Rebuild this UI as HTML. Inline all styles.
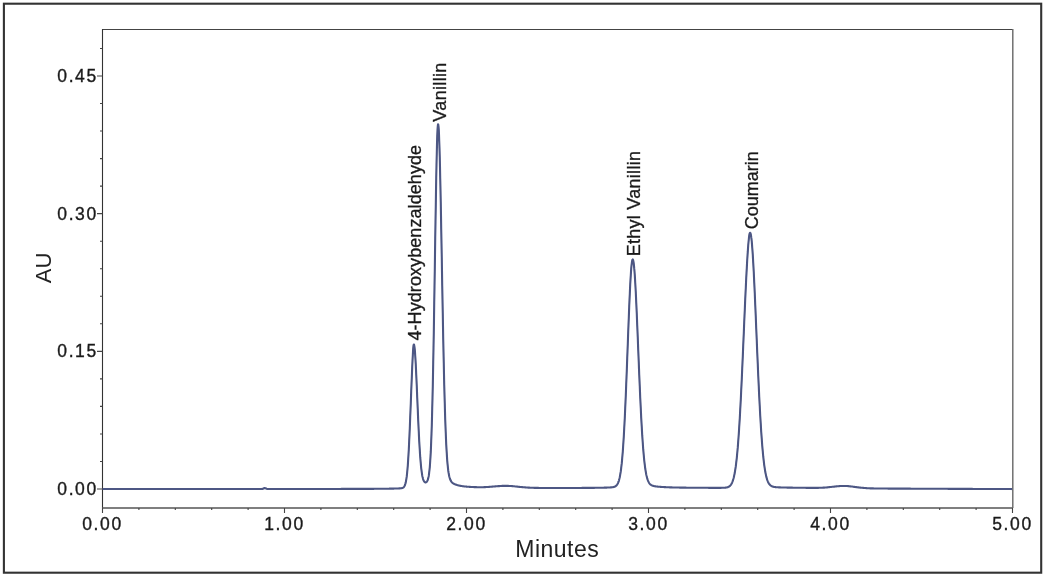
<!DOCTYPE html>
<html><head><meta charset="utf-8"><style>
html,body{margin:0;padding:0;background:#fff;width:1047px;height:578px;overflow:hidden}
svg{display:block;will-change:transform}
.tl{font-family:"Liberation Sans", sans-serif;font-size:17.5px;fill:#1a1a1a;stroke:#1a1a1a;stroke-width:0.35px;letter-spacing:1.6px}
.ax{font-family:"Liberation Sans", sans-serif;font-size:23px;fill:#222;letter-spacing:0.5px}
.pl{font-family:"Liberation Sans", sans-serif;font-size:18px;fill:#1a1a1a;stroke:#1a1a1a;stroke-width:0.3px}
</style></head><body>
<svg width="1047" height="578" viewBox="0 0 1047 578">
<rect x="3.9" y="3.7" width="1037.3" height="569" fill="none" stroke="#333" stroke-width="2.1"/>
<path d="M102.5,29.5 H1012.5" stroke="#444" stroke-width="1"/>
<path d="M102.5,29 V508" stroke="#333" stroke-width="1.1"/>
<path d="M102,508 H1013" stroke="#555" stroke-width="1.6"/>
<path d="M1012.8,29 V508" stroke="#666" stroke-width="1.4"/>
<path d="M97,489.00 H102.5 M100,461.47 H102.5 M100,433.93 H102.5 M100,406.40 H102.5 M100,378.87 H102.5 M97,351.33 H102.5 M100,323.80 H102.5 M100,296.27 H102.5 M100,268.73 H102.5 M100,241.20 H102.5 M97,213.67 H102.5 M100,186.13 H102.5 M100,158.60 H102.5 M100,131.07 H102.5 M100,103.53 H102.5 M97,76.00 H102.5 M100,48.47 H102.5 M102.50,508 V513 M138.90,508 V510 M175.30,508 V510 M211.70,508 V510 M248.10,508 V510 M284.50,508 V513 M320.90,508 V510 M357.30,508 V510 M393.70,508 V510 M430.10,508 V510 M466.50,508 V513 M502.90,508 V510 M539.30,508 V510 M575.70,508 V510 M612.10,508 V510 M648.50,508 V513 M684.90,508 V510 M721.30,508 V510 M757.70,508 V510 M794.10,508 V510 M830.50,508 V513 M866.90,508 V510 M903.30,508 V510 M939.70,508 V510 M976.10,508 V510 M1012.50,508 V513" stroke="#444" stroke-width="1.1" fill="none"/>
<text x="97.8" y="494.90" text-anchor="end" class="tl">0.00</text>
<text x="97.8" y="357.23" text-anchor="end" class="tl">0.15</text>
<text x="97.8" y="219.57" text-anchor="end" class="tl">0.30</text>
<text x="97.8" y="81.90" text-anchor="end" class="tl">0.45</text>
<text x="102.50" y="530.3" text-anchor="middle" class="tl">0.00</text>
<text x="284.50" y="530.3" text-anchor="middle" class="tl">1.00</text>
<text x="466.50" y="530.3" text-anchor="middle" class="tl">2.00</text>
<text x="648.50" y="530.3" text-anchor="middle" class="tl">3.00</text>
<text x="830.50" y="530.3" text-anchor="middle" class="tl">4.00</text>
<text x="1012.50" y="530.3" text-anchor="middle" class="tl">5.00</text>
<text x="557.3" y="557" text-anchor="middle" class="ax">Minutes</text>
<text transform="translate(51.2,267.9) rotate(-90)" text-anchor="middle" class="ax" style="font-size:22px;letter-spacing:0">AU</text>
<path d="M102.5,488.99 L103.5,488.99 L104.5,488.99 L105.5,488.99 L106.5,488.99 L107.5,488.99 L108.5,488.99 L109.5,488.99 L110.5,488.99 L111.5,488.99 L112.5,488.99 L113.5,488.99 L114.5,488.99 L115.5,488.99 L116.5,488.99 L117.5,488.99 L118.5,488.99 L119.5,488.99 L120.5,488.99 L121.5,488.99 L122.5,488.99 L123.5,488.99 L124.5,488.99 L125.5,488.99 L126.5,488.99 L127.5,488.99 L128.5,488.99 L129.5,488.99 L130.5,488.99 L131.5,488.99 L132.5,488.99 L133.5,488.99 L134.5,488.99 L135.5,488.99 L136.5,488.99 L137.5,488.99 L138.5,488.99 L139.5,488.99 L140.5,488.99 L141.5,488.99 L142.5,488.99 L143.5,488.99 L144.5,488.99 L145.5,488.99 L146.5,488.99 L147.5,488.99 L148.5,488.99 L149.5,488.99 L150.5,488.99 L151.5,488.99 L152.5,488.99 L153.5,488.99 L154.5,488.99 L155.5,488.99 L156.5,488.99 L157.5,488.99 L158.5,488.99 L159.5,488.99 L160.5,488.99 L161.5,488.99 L162.5,488.99 L163.5,488.99 L164.5,488.99 L165.5,488.99 L166.5,488.99 L167.5,488.99 L168.5,488.99 L169.5,488.99 L170.5,488.99 L171.5,488.99 L172.5,488.99 L173.5,488.99 L174.5,488.99 L175.5,488.99 L176.5,488.99 L177.5,488.99 L178.5,488.99 L179.5,488.99 L180.5,488.99 L181.5,488.99 L182.5,488.99 L183.5,488.99 L184.5,488.99 L185.5,488.99 L186.5,488.99 L187.5,488.99 L188.5,488.99 L189.5,488.99 L190.5,488.99 L191.5,488.99 L192.5,488.99 L193.5,488.99 L194.5,488.99 L195.5,488.99 L196.5,488.99 L197.5,488.99 L198.5,488.99 L199.5,488.99 L200.5,488.99 L201.5,488.99 L202.5,488.99 L203.5,488.99 L204.5,488.99 L205.5,488.99 L206.5,488.99 L207.5,488.99 L208.5,488.99 L209.5,488.99 L210.5,488.99 L211.5,488.99 L212.5,488.99 L213.5,488.99 L214.5,488.98 L215.5,488.98 L216.5,488.98 L217.5,488.98 L218.5,488.98 L219.5,488.98 L220.5,488.98 L221.5,488.98 L222.5,488.98 L223.5,488.98 L224.5,488.98 L225.5,488.98 L226.5,488.98 L227.5,488.98 L228.5,488.98 L229.5,488.98 L230.5,488.98 L231.5,488.98 L232.5,488.98 L233.5,488.98 L234.5,488.98 L235.5,488.98 L236.5,488.98 L237.5,488.98 L238.5,488.98 L239.5,488.98 L240.5,488.98 L241.5,488.98 L242.5,488.98 L243.5,488.98 L244.5,488.98 L245.5,488.98 L246.5,488.98 L247.5,488.98 L248.5,488.98 L249.5,488.98 L250.5,488.98 L251.5,488.98 L252.5,488.98 L253.5,488.98 L254.5,488.98 L255.5,488.98 L256.5,488.98 L257.5,488.98 L258.5,488.98 L259.5,488.98 L260.5,488.98 L261.5,488.97 L262.5,488.91 L263.5,488.55 L264.5,488.02 L265.5,488.19 L266.5,488.74 L267.5,488.95 L268.5,488.97 L269.5,488.97 L270.5,488.97 L271.5,488.97 L272.5,488.97 L273.5,488.97 L274.5,488.97 L275.5,488.97 L276.5,488.97 L277.5,488.97 L278.5,488.97 L279.5,488.97 L280.5,488.97 L281.5,488.97 L282.5,488.97 L283.5,488.97 L284.5,488.97 L285.5,488.97 L286.5,488.97 L287.5,488.97 L288.5,488.97 L289.5,488.97 L290.5,488.97 L291.5,488.97 L292.5,488.97 L293.5,488.97 L294.5,488.96 L295.5,488.96 L296.5,488.96 L297.5,488.96 L298.5,488.96 L299.5,488.96 L300.5,488.96 L301.5,488.96 L302.5,488.96 L303.5,488.96 L304.5,488.96 L305.5,488.96 L306.5,488.96 L307.5,488.96 L308.5,488.96 L309.5,488.96 L310.5,488.96 L311.5,488.96 L312.5,488.95 L313.5,488.95 L314.5,488.95 L315.5,488.95 L316.5,488.95 L317.5,488.95 L318.5,488.95 L319.5,488.95 L320.5,488.95 L321.5,488.95 L322.5,488.95 L323.5,488.95 L324.5,488.94 L325.5,488.94 L326.5,488.94 L327.5,488.94 L328.5,488.94 L329.5,488.94 L330.5,488.94 L331.5,488.94 L332.5,488.94 L333.5,488.93 L334.5,488.93 L335.5,488.93 L336.5,488.93 L337.5,488.93 L338.5,488.93 L339.5,488.93 L340.5,488.93 L341.5,488.92 L342.5,488.92 L343.5,488.92 L344.5,488.92 L345.5,488.92 L346.5,488.91 L347.5,488.91 L348.5,488.91 L349.5,488.91 L350.5,488.91 L351.5,488.90 L352.5,488.90 L353.5,488.90 L354.5,488.90 L355.5,488.90 L356.5,488.89 L357.5,488.89 L358.5,488.89 L359.5,488.88 L360.5,488.88 L361.5,488.88 L362.5,488.87 L363.5,488.87 L364.5,488.87 L365.5,488.86 L366.5,488.86 L367.5,488.86 L368.5,488.85 L369.5,488.85 L370.5,488.84 L371.5,488.84 L372.5,488.83 L373.5,488.83 L374.5,488.82 L375.5,488.81 L376.5,488.81 L377.5,488.80 L378.5,488.79 L379.5,488.78 L379.8,488.78 L380.0,488.78 L380.2,488.78 L380.5,488.78 L380.8,488.77 L381.0,488.77 L381.2,488.77 L381.5,488.77 L381.8,488.77 L382.0,488.76 L382.2,488.76 L382.5,488.76 L382.8,488.76 L383.0,488.75 L383.2,488.75 L383.5,488.75 L383.8,488.75 L384.0,488.74 L384.2,488.74 L384.5,488.74 L384.8,488.73 L385.0,488.73 L385.2,488.73 L385.5,488.73 L385.8,488.72 L386.0,488.72 L386.2,488.72 L386.5,488.71 L386.8,488.71 L387.0,488.71 L387.2,488.70 L387.5,488.70 L387.8,488.70 L388.0,488.69 L388.2,488.69 L388.5,488.69 L388.8,488.68 L389.0,488.68 L389.2,488.67 L389.5,488.67 L389.8,488.67 L390.0,488.66 L390.2,488.66 L390.5,488.65 L390.8,488.65 L391.0,488.64 L391.2,488.64 L391.5,488.63 L391.8,488.63 L392.0,488.62 L392.2,488.62 L392.5,488.61 L392.8,488.61 L393.0,488.60 L393.2,488.60 L393.5,488.59 L393.8,488.59 L394.0,488.58 L394.2,488.57 L394.5,488.57 L394.8,488.56 L395.0,488.55 L395.2,488.55 L395.5,488.54 L395.8,488.53 L396.0,488.53 L396.2,488.52 L396.5,488.51 L396.8,488.50 L397.0,488.49 L397.2,488.48 L397.5,488.47 L397.8,488.47 L398.0,488.46 L398.2,488.45 L398.5,488.43 L398.8,488.42 L399.0,488.41 L399.2,488.40 L399.5,488.38 L399.8,488.37 L400.0,488.35 L400.2,488.33 L400.5,488.31 L400.8,488.28 L401.0,488.25 L401.2,488.22 L401.5,488.18 L401.8,488.13 L402.0,488.07 L402.2,488.00 L402.5,487.92 L402.8,487.82 L403.0,487.69 L403.2,487.53 L403.5,487.34 L403.8,487.11 L404.0,486.83 L404.2,486.48 L404.5,486.06 L404.8,485.55 L405.0,484.94 L405.2,484.21 L405.5,483.35 L405.8,482.32 L406.0,481.12 L406.2,479.72 L406.5,478.09 L406.8,476.22 L407.0,474.08 L407.2,471.64 L407.5,468.90 L407.8,465.82 L408.0,462.41 L408.2,458.64 L408.5,454.51 L408.8,450.03 L409.0,445.19 L409.2,440.03 L409.5,434.55 L409.8,428.78 L410.0,422.78 L410.2,416.57 L410.5,410.22 L410.8,403.77 L411.0,397.28 L411.2,390.83 L411.5,384.46 L411.8,378.24 L412.0,372.22 L412.2,366.47 L412.5,361.06 L412.8,356.08 L413.0,351.68 L413.2,348.10 L413.5,345.60 L413.8,344.46 L414.0,344.60 L414.2,345.50 L414.5,347.10 L414.8,349.38 L415.0,352.31 L415.2,355.83 L415.5,359.89 L415.8,364.42 L416.0,369.36 L416.2,374.64 L416.5,380.19 L416.8,385.93 L417.0,391.81 L417.2,397.75 L417.5,403.70 L417.8,409.59 L418.0,415.38 L418.2,421.02 L418.5,426.47 L418.8,431.69 L419.0,436.66 L419.2,441.37 L419.5,445.78 L419.8,449.89 L420.0,453.70 L420.2,457.21 L420.5,460.42 L420.8,463.34 L421.0,465.97 L421.2,468.34 L421.5,470.45 L421.8,472.32 L422.0,473.97 L422.2,475.42 L422.5,476.67 L422.8,477.76 L423.0,478.70 L423.2,479.49 L423.5,480.16 L423.8,480.72 L424.0,481.19 L424.2,481.56 L424.5,481.86 L424.8,482.08 L425.0,482.24 L425.2,482.35 L425.5,482.39 L425.8,482.38 L426.0,482.32 L426.2,482.20 L426.5,482.01 L426.8,481.76 L427.0,481.44 L427.2,481.03 L427.5,480.51 L427.8,479.88 L428.0,479.11 L428.2,478.17 L428.5,477.05 L428.8,475.71 L429.0,474.10 L429.2,472.21 L429.5,469.97 L429.8,467.34 L430.0,464.28 L430.2,460.73 L430.5,456.64 L430.8,451.94 L431.0,446.58 L431.2,440.52 L431.5,433.69 L431.8,426.06 L432.0,417.58 L432.2,408.23 L432.5,397.98 L432.8,386.84 L433.0,374.81 L433.2,361.93 L433.5,348.23 L433.8,333.79 L434.0,318.69 L434.2,303.05 L434.5,286.99 L434.8,270.67 L435.0,254.26 L435.2,237.93 L435.5,221.90 L435.8,206.37 L436.0,191.57 L436.2,177.72 L436.5,165.04 L436.8,153.75 L437.0,144.05 L437.2,136.12 L437.5,130.11 L437.8,126.14 L438.0,124.30 L438.2,124.50 L438.5,126.30 L438.8,129.64 L439.0,134.48 L439.2,140.75 L439.5,148.36 L439.8,157.22 L440.0,167.21 L440.2,178.21 L440.5,190.08 L440.8,202.68 L441.0,215.88 L441.2,229.52 L441.5,243.47 L441.8,257.60 L442.0,271.77 L442.2,285.86 L442.5,299.76 L442.8,313.37 L443.0,326.59 L443.2,339.36 L443.5,351.61 L443.8,363.28 L444.0,374.33 L444.2,384.74 L444.5,394.48 L444.8,403.55 L445.0,411.94 L445.2,419.68 L445.5,426.76 L445.8,433.22 L446.0,439.08 L446.2,444.37 L446.5,449.13 L446.8,453.38 L447.0,457.18 L447.2,460.55 L447.5,463.52 L447.8,466.15 L448.0,468.45 L448.2,470.47 L448.5,472.23 L448.8,473.77 L449.0,475.11 L449.2,476.27 L449.5,477.27 L449.8,478.15 L450.0,478.90 L450.2,479.56 L450.5,480.14 L450.8,480.64 L451.0,481.08 L451.2,481.46 L451.5,481.80 L451.8,482.10 L452.0,482.37 L452.2,482.61 L452.5,482.83 L452.8,483.03 L453.0,483.21 L453.2,483.38 L453.5,483.54 L453.8,483.68 L454.0,483.82 L454.2,483.95 L454.5,484.07 L454.8,484.18 L455.0,484.29 L455.2,484.39 L455.5,484.49 L455.8,484.58 L456.0,484.67 L456.2,484.76 L456.5,484.84 L456.8,484.93 L457.0,485.00 L457.2,485.08 L457.5,485.15 L457.8,485.22 L458.0,485.28 L458.2,485.35 L458.5,485.41 L458.8,485.47 L459.0,485.53 L459.2,485.58 L459.5,485.64 L459.8,485.69 L460.0,485.74 L460.2,485.79 L460.5,485.84 L460.8,485.88 L461.0,485.93 L461.2,485.97 L461.5,486.01 L461.8,486.05 L462.0,486.09 L462.2,486.13 L462.5,486.17 L462.8,486.21 L463.0,486.24 L463.2,486.27 L463.5,486.31 L463.8,486.34 L464.0,486.37 L464.2,486.40 L464.5,486.43 L464.8,486.46 L465.0,486.48 L465.2,486.51 L465.5,486.53 L465.8,486.56 L466.0,486.58 L466.2,486.61 L466.5,486.63 L466.8,486.65 L467.0,486.67 L467.2,486.69 L467.5,486.71 L467.8,486.73 L468.0,486.75 L468.2,486.77 L468.5,486.79 L468.8,486.81 L469.0,486.82 L469.2,486.84 L469.5,486.86 L469.8,486.87 L470.0,486.89 L470.2,486.90 L470.5,486.92 L470.8,486.93 L471.0,486.95 L471.2,486.97 L471.5,486.98 L471.8,486.99 L472.0,487.01 L472.2,487.02 L472.5,487.03 L472.8,487.05 L473.0,487.06 L473.2,487.07 L474.2,487.11 L475.2,487.15 L476.2,487.17 L477.2,487.20 L478.2,487.21 L479.2,487.22 L480.2,487.22 L481.2,487.21 L482.2,487.20 L483.2,487.18 L484.2,487.15 L485.2,487.11 L486.2,487.07 L487.2,487.02 L488.2,486.96 L489.2,486.89 L490.2,486.82 L491.2,486.74 L492.2,486.66 L493.2,486.57 L494.2,486.49 L495.2,486.40 L496.2,486.31 L497.2,486.23 L498.2,486.15 L499.2,486.08 L500.2,486.01 L501.2,485.96 L502.2,485.91 L503.2,485.88 L504.2,485.86 L505.2,485.85 L506.2,485.85 L507.2,485.87 L508.2,485.90 L509.2,485.94 L510.2,486.00 L511.2,486.07 L512.2,486.14 L513.2,486.23 L514.2,486.32 L515.2,486.42 L516.2,486.52 L517.2,486.63 L518.2,486.73 L519.2,486.84 L520.2,486.94 L521.2,487.04 L522.2,487.13 L523.2,487.23 L524.2,487.31 L525.2,487.39 L526.2,487.46 L527.2,487.53 L528.2,487.59 L529.2,487.65 L530.2,487.70 L531.2,487.74 L532.2,487.78 L533.2,487.81 L534.2,487.84 L535.2,487.86 L536.2,487.88 L537.2,487.90 L538.2,487.92 L539.2,487.93 L540.2,487.94 L541.2,487.95 L542.2,487.95 L543.2,487.96 L544.2,487.96 L545.2,487.97 L546.2,487.97 L547.2,487.97 L548.2,487.97 L549.2,487.98 L550.2,487.98 L551.2,487.98 L552.2,487.98 L553.2,487.98 L554.2,487.98 L555.2,487.98 L556.2,487.98 L557.2,487.98 L558.2,487.98 L559.2,487.98 L560.2,487.98 L561.2,487.97 L562.2,487.97 L563.2,487.97 L564.2,487.97 L565.2,487.97 L566.2,487.97 L567.2,487.97 L568.2,487.96 L569.2,487.96 L570.2,487.96 L571.2,487.96 L572.2,487.96 L573.2,487.95 L574.2,487.95 L575.2,487.95 L576.2,487.95 L577.2,487.94 L578.2,487.94 L579.2,487.93 L580.2,487.93 L581.2,487.93 L582.2,487.92 L583.2,487.92 L584.2,487.91 L585.2,487.91 L586.2,487.90 L587.2,487.89 L588.2,487.89 L589.2,487.88 L590.2,487.87 L591.2,487.86 L592.2,487.86 L593.2,487.85 L594.2,487.84 L595.2,487.82 L596.2,487.81 L597.2,487.80 L598.2,487.78 L598.5,487.78 L598.8,487.78 L599.0,487.77 L599.2,487.77 L599.5,487.76 L599.8,487.76 L600.0,487.76 L600.2,487.75 L600.5,487.75 L600.8,487.74 L601.0,487.74 L601.2,487.73 L601.5,487.73 L601.8,487.72 L602.0,487.72 L602.2,487.71 L602.5,487.71 L602.8,487.70 L603.0,487.70 L603.2,487.69 L603.5,487.68 L603.8,487.68 L604.0,487.67 L604.2,487.67 L604.5,487.66 L604.8,487.65 L605.0,487.65 L605.2,487.64 L605.5,487.63 L605.8,487.62 L606.0,487.62 L606.2,487.61 L606.5,487.60 L606.8,487.59 L607.0,487.58 L607.2,487.57 L607.5,487.56 L607.8,487.55 L608.0,487.54 L608.2,487.53 L608.5,487.52 L608.8,487.51 L609.0,487.50 L609.2,487.49 L609.5,487.47 L609.8,487.46 L610.0,487.45 L610.2,487.43 L610.5,487.41 L610.8,487.40 L611.0,487.38 L611.2,487.36 L611.5,487.33 L611.8,487.31 L612.0,487.28 L612.2,487.25 L612.5,487.22 L612.8,487.18 L613.0,487.14 L613.2,487.09 L613.5,487.04 L613.8,486.97 L614.0,486.91 L614.2,486.83 L614.5,486.74 L614.8,486.64 L615.0,486.52 L615.2,486.39 L615.5,486.24 L615.8,486.07 L616.0,485.88 L616.2,485.66 L616.5,485.41 L616.8,485.12 L617.0,484.80 L617.2,484.44 L617.5,484.03 L617.8,483.56 L618.0,483.04 L618.2,482.45 L618.5,481.80 L618.8,481.06 L619.0,480.24 L619.2,479.33 L619.5,478.31 L619.8,477.19 L620.0,475.94 L620.2,474.57 L620.5,473.07 L620.8,471.41 L621.0,469.60 L621.2,467.62 L621.5,465.47 L621.8,463.14 L622.0,460.61 L622.2,457.88 L622.5,454.94 L622.8,451.78 L623.0,448.40 L623.2,444.79 L623.5,440.95 L623.8,436.88 L624.0,432.57 L624.2,428.02 L624.5,423.24 L624.8,418.23 L625.0,413.00 L625.2,407.55 L625.5,401.89 L625.8,396.04 L626.0,390.01 L626.2,383.82 L626.5,377.49 L626.8,371.04 L627.0,364.49 L627.2,357.86 L627.5,351.19 L627.8,344.51 L628.0,337.84 L628.2,331.23 L628.5,324.69 L628.8,318.27 L629.0,312.01 L629.2,305.94 L629.5,300.09 L629.8,294.51 L630.0,289.22 L630.2,284.27 L630.5,279.69 L630.8,275.50 L631.0,271.75 L631.2,268.45 L631.5,265.64 L631.8,263.33 L632.0,261.55 L632.2,260.30 L632.5,259.61 L632.8,259.46 L633.0,259.81 L633.2,260.62 L633.5,261.90 L633.8,263.63 L634.0,265.80 L634.2,268.41 L634.5,271.43 L634.8,274.84 L635.0,278.63 L635.2,282.77 L635.5,287.24 L635.8,292.01 L636.0,297.05 L636.2,302.35 L636.5,307.86 L636.8,313.56 L637.0,319.42 L637.2,325.41 L637.5,331.50 L637.8,337.67 L638.0,343.87 L638.2,350.10 L638.5,356.31 L638.8,362.49 L639.0,368.62 L639.2,374.66 L639.5,380.61 L639.8,386.44 L640.0,392.13 L640.2,397.68 L640.5,403.06 L640.8,408.27 L641.0,413.29 L641.2,418.12 L641.5,422.76 L641.8,427.19 L642.0,431.42 L642.2,435.44 L642.5,439.25 L642.8,442.86 L643.0,446.26 L643.2,449.47 L643.5,452.47 L643.8,455.29 L644.0,457.92 L644.2,460.37 L644.5,462.65 L644.8,464.76 L645.0,466.72 L645.2,468.52 L645.5,470.18 L645.8,471.71 L646.0,473.11 L646.2,474.40 L646.5,475.57 L646.8,476.64 L647.0,477.61 L647.2,478.49 L647.5,479.29 L647.8,480.02 L648.0,480.67 L648.2,481.27 L648.5,481.80 L648.8,482.28 L649.0,482.71 L649.2,483.10 L649.5,483.44 L649.8,483.76 L650.0,484.04 L650.2,484.29 L650.5,484.51 L650.8,484.71 L651.0,484.89 L651.2,485.06 L651.5,485.20 L651.8,485.33 L652.0,485.45 L652.2,485.56 L652.5,485.65 L652.8,485.74 L653.0,485.82 L653.2,485.90 L653.5,485.96 L653.8,486.02 L654.0,486.08 L654.2,486.13 L654.5,486.18 L654.8,486.23 L655.0,486.27 L655.2,486.31 L655.5,486.35 L655.8,486.39 L656.0,486.42 L656.2,486.45 L656.5,486.48 L656.8,486.51 L657.0,486.54 L657.2,486.57 L657.5,486.60 L657.8,486.62 L658.0,486.65 L658.2,486.67 L658.5,486.70 L658.8,486.72 L659.0,486.74 L659.2,486.76 L659.5,486.78 L659.8,486.80 L660.0,486.82 L660.2,486.84 L660.5,486.86 L660.8,486.88 L661.0,486.90 L661.2,486.92 L661.5,486.93 L661.8,486.95 L662.0,486.97 L662.2,486.98 L662.5,487.00 L662.8,487.01 L663.0,487.03 L663.2,487.04 L663.5,487.06 L663.8,487.07 L664.0,487.09 L664.2,487.10 L664.5,487.11 L664.8,487.13 L665.0,487.14 L665.2,487.15 L665.5,487.16 L665.8,487.17 L666.0,487.19 L666.2,487.20 L666.5,487.21 L666.8,487.22 L667.0,487.23 L667.2,487.24 L667.5,487.25 L667.8,487.26 L668.8,487.30 L669.8,487.34 L670.8,487.37 L671.8,487.40 L672.8,487.43 L673.8,487.46 L674.8,487.48 L675.8,487.50 L676.8,487.53 L677.8,487.55 L678.8,487.57 L679.8,487.58 L680.8,487.60 L681.8,487.62 L682.8,487.63 L683.8,487.65 L684.8,487.66 L685.8,487.67 L686.8,487.68 L687.8,487.69 L688.8,487.71 L689.8,487.72 L690.8,487.72 L691.8,487.73 L692.8,487.74 L693.8,487.75 L694.8,487.76 L695.8,487.76 L696.8,487.77 L697.8,487.78 L698.8,487.78 L699.8,487.79 L700.8,487.79 L701.8,487.80 L702.8,487.80 L703.8,487.81 L704.8,487.81 L705.8,487.82 L706.8,487.82 L707.8,487.82 L708.8,487.83 L709.8,487.83 L710.8,487.83 L711.8,487.83 L712.8,487.83 L713.8,487.84 L714.8,487.84 L715.8,487.84 L716.0,487.84 L716.2,487.84 L716.5,487.84 L716.8,487.84 L717.0,487.84 L717.2,487.84 L717.5,487.84 L717.8,487.84 L718.0,487.84 L718.2,487.84 L718.5,487.84 L718.8,487.84 L719.0,487.84 L719.2,487.84 L719.5,487.84 L719.8,487.83 L720.0,487.83 L720.2,487.83 L720.5,487.83 L720.8,487.83 L721.0,487.83 L721.2,487.83 L721.5,487.82 L721.8,487.82 L722.0,487.82 L722.2,487.81 L722.5,487.81 L722.8,487.80 L723.0,487.80 L723.2,487.79 L723.5,487.78 L723.8,487.77 L724.0,487.76 L724.2,487.75 L724.5,487.73 L724.8,487.71 L725.0,487.69 L725.2,487.67 L725.5,487.65 L725.8,487.62 L726.0,487.58 L726.2,487.55 L726.5,487.50 L726.8,487.45 L727.0,487.40 L727.2,487.33 L727.5,487.26 L727.8,487.18 L728.0,487.09 L728.2,486.98 L728.5,486.87 L728.8,486.73 L729.0,486.59 L729.2,486.42 L729.5,486.24 L729.8,486.03 L730.0,485.80 L730.2,485.55 L730.5,485.26 L730.8,484.95 L731.0,484.60 L731.2,484.22 L731.5,483.79 L731.8,483.32 L732.0,482.80 L732.2,482.24 L732.5,481.62 L732.8,480.94 L733.0,480.19 L733.2,479.38 L733.5,478.49 L733.8,477.53 L734.0,476.49 L734.2,475.36 L734.5,474.13 L734.8,472.81 L735.0,471.38 L735.2,469.85 L735.5,468.20 L735.8,466.43 L736.0,464.53 L736.2,462.51 L736.5,460.35 L736.8,458.06 L737.0,455.61 L737.2,453.02 L737.5,450.28 L737.8,447.38 L738.0,444.32 L738.2,441.10 L738.5,437.72 L738.8,434.17 L739.0,430.45 L739.2,426.57 L739.5,422.53 L739.8,418.32 L740.0,413.95 L740.2,409.42 L740.5,404.73 L740.8,399.90 L741.0,394.93 L741.2,389.82 L741.5,384.58 L741.8,379.22 L742.0,373.76 L742.2,368.20 L742.5,362.55 L742.8,356.83 L743.0,351.05 L743.2,345.23 L743.5,339.38 L743.8,333.51 L744.0,327.65 L744.2,321.81 L744.5,316.01 L744.8,310.26 L745.0,304.59 L745.2,299.01 L745.5,293.54 L745.8,288.20 L746.0,283.00 L746.2,277.96 L746.5,273.10 L746.8,268.43 L747.0,263.97 L747.2,259.72 L747.5,255.71 L747.8,251.94 L748.0,248.42 L748.2,245.19 L748.5,242.25 L748.8,239.63 L749.0,237.36 L749.2,235.50 L749.5,234.08 L749.8,233.16 L750.0,232.77 L750.2,232.87 L750.5,233.37 L750.8,234.27 L751.0,235.55 L751.2,237.21 L751.5,239.24 L751.8,241.64 L752.0,244.39 L752.2,247.47 L752.5,250.89 L752.8,254.61 L753.0,258.62 L753.2,262.91 L753.5,267.45 L753.8,272.23 L754.0,277.22 L754.2,282.41 L754.5,287.78 L754.8,293.30 L755.0,298.95 L755.2,304.72 L755.5,310.57 L755.8,316.50 L756.0,322.47 L756.2,328.47 L756.5,334.49 L756.8,340.50 L757.0,346.48 L757.2,352.42 L757.5,358.31 L757.8,364.12 L758.0,369.84 L758.2,375.47 L758.5,380.98 L758.8,386.38 L759.0,391.64 L759.2,396.76 L759.5,401.73 L759.8,406.55 L760.0,411.21 L760.2,415.71 L760.5,420.03 L760.8,424.19 L761.0,428.18 L761.2,432.00 L761.5,435.64 L761.8,439.11 L762.0,442.42 L762.2,445.55 L762.5,448.53 L762.8,451.34 L763.0,453.99 L763.2,456.49 L763.5,458.85 L763.8,461.05 L764.0,463.12 L764.2,465.06 L764.5,466.87 L764.8,468.56 L765.0,470.12 L765.2,471.58 L765.5,472.93 L765.8,474.19 L766.0,475.34 L766.2,476.41 L766.5,477.39 L766.8,478.30 L767.0,479.13 L767.2,479.89 L767.5,480.59 L767.8,481.23 L768.0,481.81 L768.2,482.35 L768.5,482.83 L768.8,483.27 L769.0,483.67 L769.2,484.03 L769.5,484.36 L769.8,484.66 L770.0,484.92 L770.2,485.17 L770.5,485.39 L770.8,485.58 L771.0,485.76 L771.2,485.92 L771.5,486.06 L771.8,486.19 L772.0,486.31 L772.2,486.41 L772.5,486.51 L772.8,486.59 L773.0,486.67 L773.2,486.74 L773.5,486.80 L773.8,486.86 L774.0,486.91 L774.2,486.95 L774.5,486.99 L774.8,487.03 L775.0,487.06 L775.2,487.09 L775.5,487.12 L775.8,487.15 L776.0,487.17 L776.2,487.19 L776.5,487.21 L776.8,487.23 L777.0,487.25 L777.2,487.27 L777.5,487.28 L777.8,487.30 L778.0,487.31 L778.2,487.32 L778.5,487.34 L778.8,487.35 L779.0,487.36 L779.2,487.37 L779.5,487.38 L779.8,487.39 L780.0,487.40 L780.2,487.41 L780.5,487.42 L780.8,487.43 L781.0,487.43 L781.2,487.44 L781.5,487.45 L781.8,487.46 L782.0,487.47 L782.2,487.47 L782.5,487.48 L782.8,487.49 L783.0,487.49 L783.2,487.50 L783.5,487.51 L783.8,487.51 L784.0,487.52 L784.2,487.52 L784.5,487.53 L784.8,487.54 L785.0,487.54 L785.2,487.55 L786.2,487.57 L787.2,487.59 L788.2,487.61 L789.2,487.62 L790.2,487.64 L791.2,487.65 L792.2,487.67 L793.2,487.68 L794.2,487.69 L795.2,487.70 L796.2,487.71 L797.2,487.72 L798.2,487.73 L799.2,487.74 L800.2,487.75 L801.2,487.76 L802.2,487.78 L803.2,487.79 L804.2,487.81 L805.2,487.82 L806.2,487.83 L807.2,487.84 L808.2,487.85 L809.2,487.86 L810.2,487.87 L811.2,487.88 L812.2,487.88 L813.2,487.88 L814.2,487.88 L815.2,487.88 L816.2,487.87 L817.2,487.85 L818.2,487.84 L819.2,487.81 L820.2,487.78 L821.2,487.75 L822.2,487.70 L823.2,487.65 L824.2,487.59 L825.2,487.52 L826.2,487.44 L827.2,487.36 L828.2,487.26 L829.2,487.16 L830.2,487.06 L831.2,486.94 L832.2,486.83 L833.2,486.71 L834.2,486.60 L835.2,486.48 L836.2,486.37 L837.2,486.27 L838.2,486.18 L839.2,486.10 L840.2,486.03 L841.2,485.98 L842.2,485.95 L843.2,485.94 L844.2,485.94 L845.2,485.96 L846.2,486.01 L847.2,486.07 L848.2,486.14 L849.2,486.23 L850.2,486.34 L851.2,486.45 L852.2,486.58 L853.2,486.71 L854.2,486.84 L855.2,486.97 L856.2,487.11 L857.2,487.24 L858.2,487.37 L859.2,487.49 L860.2,487.61 L861.2,487.72 L862.2,487.82 L863.2,487.91 L864.2,487.99 L865.2,488.07 L866.2,488.13 L867.2,488.19 L868.2,488.25 L869.2,488.29 L870.2,488.33 L871.2,488.37 L872.2,488.40 L873.2,488.42 L874.2,488.44 L875.2,488.46 L876.2,488.48 L877.2,488.50 L878.2,488.51 L879.2,488.52 L880.2,488.54 L881.2,488.54 L882.2,488.55 L883.2,488.55 L884.2,488.56 L885.2,488.57 L886.2,488.57 L887.2,488.57 L888.2,488.58 L889.2,488.58 L890.2,488.59 L891.2,488.59 L892.2,488.60 L893.2,488.60 L894.2,488.61 L895.2,488.61 L896.2,488.61 L897.2,488.62 L898.2,488.62 L899.2,488.63 L900.2,488.63 L901.2,488.64 L902.2,488.64 L903.2,488.64 L904.2,488.65 L905.2,488.65 L906.2,488.66 L907.2,488.66 L908.2,488.66 L909.2,488.67 L910.2,488.67 L911.2,488.68 L912.2,488.68 L913.2,488.69 L914.2,488.69 L915.2,488.69 L916.2,488.70 L917.2,488.70 L918.2,488.71 L919.2,488.71 L920.2,488.71 L921.2,488.72 L922.2,488.72 L923.2,488.73 L924.2,488.73 L925.2,488.73 L926.2,488.74 L927.2,488.74 L928.2,488.75 L929.2,488.75 L930.2,488.75 L931.2,488.76 L932.2,488.76 L933.2,488.77 L934.2,488.77 L935.2,488.77 L936.2,488.78 L937.2,488.78 L938.2,488.79 L939.2,488.79 L940.2,488.80 L941.2,488.80 L942.2,488.80 L943.2,488.81 L944.2,488.81 L945.2,488.82 L946.2,488.82 L947.2,488.82 L948.2,488.83 L949.2,488.83 L950.2,488.83 L951.2,488.84 L952.2,488.84 L953.2,488.85 L954.2,488.85 L955.2,488.85 L956.2,488.86 L957.2,488.86 L958.2,488.87 L959.2,488.87 L960.2,488.87 L961.2,488.88 L962.2,488.88 L963.2,488.89 L964.2,488.89 L965.2,488.89 L966.2,488.90 L967.2,488.90 L968.2,488.91 L969.2,488.91 L970.2,488.91 L971.2,488.92 L972.2,488.92 L973.2,488.93 L974.2,488.93 L975.2,488.93 L976.2,488.94 L977.2,488.94 L978.2,488.95 L979.2,488.95 L980.2,488.95 L981.2,488.96 L982.2,488.96 L983.2,488.96 L984.2,488.97 L985.2,488.97 L986.2,488.98 L987.2,488.98 L988.2,488.98 L989.2,488.99 L990.2,488.99 L991.2,489.00 L992.2,489.00 L993.2,489.00 L994.2,489.01 L995.2,489.01 L996.2,489.02 L997.2,489.02 L998.2,489.02 L999.2,489.03 L1000.2,489.03 L1001.2,489.04 L1002.2,489.04 L1003.2,489.04 L1004.2,489.05 L1005.2,489.05 L1006.2,489.05 L1007.2,489.06 L1008.2,489.06 L1009.2,489.07 L1010.2,489.07 L1011.2,489.07 L1012.2,489.08" fill="none" stroke="#4d5784" stroke-width="2.1" stroke-linejoin="round"/>
<text transform="translate(421.2,340.6) rotate(-90)" class="pl" letter-spacing="0.08">4-Hydroxybenzaldehyde</text>
<text transform="translate(445.7,121.7) rotate(-90)" class="pl" letter-spacing="0.33">Vanillin</text>
<text transform="translate(640,256.3) rotate(-90)" class="pl" letter-spacing="0.27">Ethyl Vanillin</text>
<text transform="translate(757.7,229.2) rotate(-90)" class="pl" letter-spacing="0">Coumarin</text>
</svg>
</body></html>
